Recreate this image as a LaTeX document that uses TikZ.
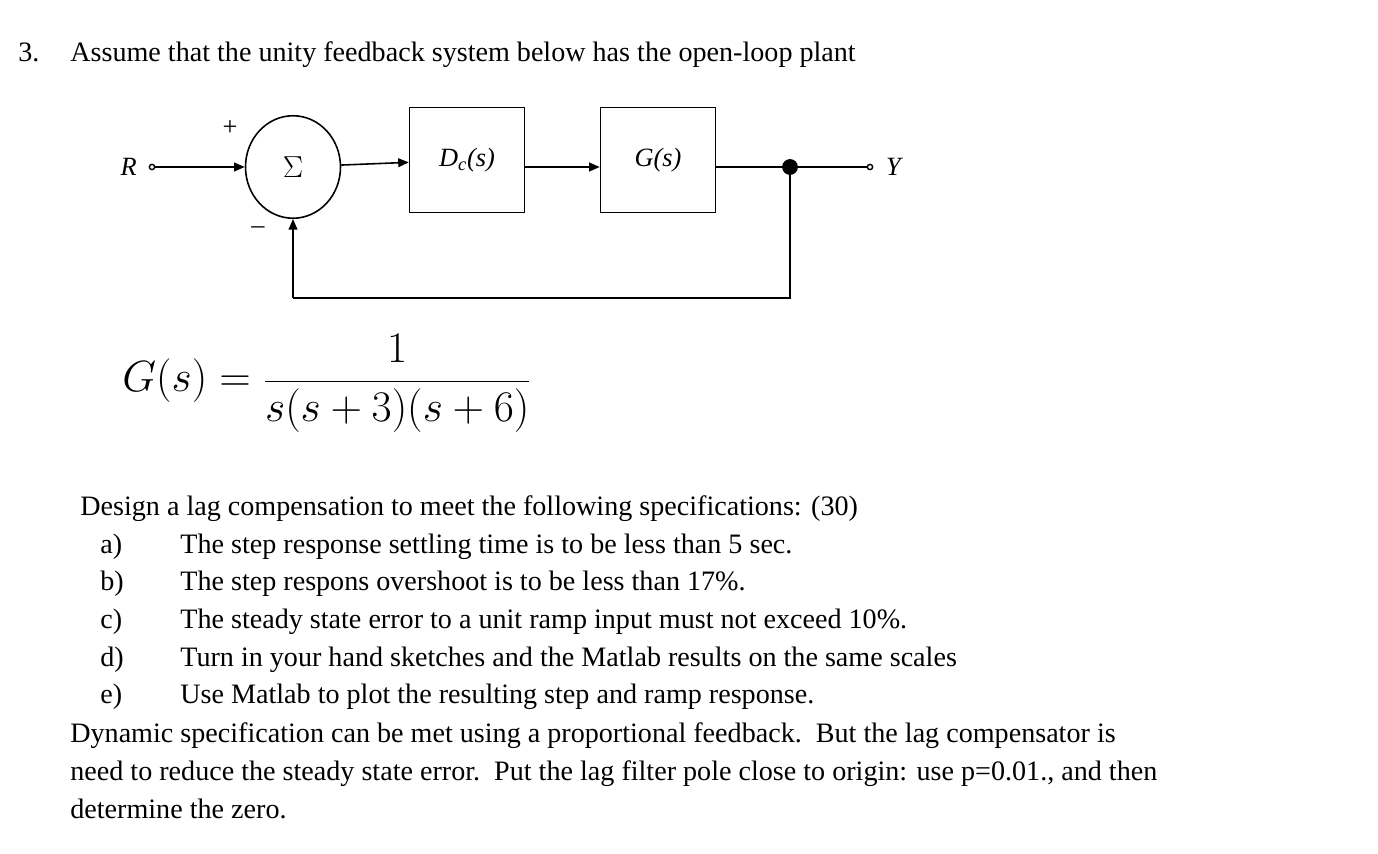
\documentclass[tikz,border=0pt]{standalone}
\usepackage{fontspec}
\setmainfont{Liberation Serif}
\usetikzlibrary{arrows.meta,shapes.geometric}
\begin{document}
\begin{tikzpicture}[x=0.02cm,y=-0.02cm,
  txt/.style={anchor=base west,inner sep=0,font=\fontsize{16}{19}\selectfont},
  blk/.style={draw,line width=0.9pt,minimum width=2.3cm,minimum height=2.1cm,font=\fontsize{15}{18}\selectfont},
  sig/.style={line width=0.9pt,-{Triangle[length=6pt,width=5pt]}},
  ln/.style={line width=0.9pt}]
\useasboundingbox (0,0) rectangle (1378,854);
\node[txt] (n3) at (18,62) {3.};
\node[txt] (t0) at (70,62) {Assume that the unity feedback system below has the open-loop plant};
% block diagram
\node[draw,circle,inner sep=0,minimum size=3pt,line width=0.8pt] (rin) at (152,167) {};
\node[anchor=east,font=\fontsize{15}{18}\selectfont\itshape] (R) at (143,167) {R};
\node[draw,ellipse,line width=0.9pt,minimum width=1.9cm,minimum height=2.05cm,inner sep=0,font=\fontsize{16}{19}\selectfont] (sum) at (293,167) {$\Sigma$};
\node[blk] (dc) at (467,160) {\itshape D\textsubscript{c}(s)};
\node[blk] (g) at (658,160) {\itshape G(s)};
\fill (790,167) circle (4.5pt);
\coordinate (dotc) at (790,167);
\node[draw,circle,inner sep=0,minimum size=3pt,line width=0.8pt] (yout) at (870,167) {};
\node[anchor=west,font=\fontsize{15}{18}\selectfont\itshape] (Y) at (880,167) {Y};
\node[font=\fontsize{15}{18}\selectfont] (plus) at (230,128) {+};
\node[font=\fontsize{15}{18}\selectfont] (minus) at (258,230) {--};
\coordinate (fb) at (790,298);
\coordinate (fb2) at (293,298);
\draw[sig] (rin) -- (sum);
\draw[sig] (sum) -- (dc);
\draw[sig] (dc.east|-sum) -- (g.west|-sum);
\draw[ln] (g.east|-sum) -- (yout);
\draw[ln] (dotc) -- (fb) -- (fb2);
\draw[sig] (fb2) -- (sum.south);
% equation
\node[anchor=base west,inner sep=0,font=\fontsize{24}{28}\selectfont] (eq) at (122,392)
  {$\displaystyle G(s)=\frac{\;1\;}{s(s+3)(s+6)}$};
% text
\node[txt] (d0) at (80,515) {Design a lag compensation to meet the following specifications: (30)};
\node[txt] (a0) at (100,553) {a)}; \node[txt] (a1) at (180,553) {The step response settling time is to be less than 5 sec.};
\node[txt] (b0) at (100,590) {b)}; \node[txt] (b1) at (180,590) {The step respons overshoot is to be less than 17\%.};
\node[txt] (c0) at (100,628) {c)}; \node[txt] (c1) at (180,628) {The steady state error to a unit ramp input must not exceed 10\%.};
\node[txt] (e0) at (100,666) {d)}; \node[txt] (e1) at (180,666) {Turn in your hand sketches and the Matlab results on the same scales};
\node[txt] (f0) at (100,703) {e)}; \node[txt] (f1) at (180,703) {Use Matlab to plot the resulting step and ramp response.};
\node[txt] (p1) at (70,742) {Dynamic specification can be met using a proportional feedback.\ \ But the lag compensator is};
\node[txt] (p2) at (70,780) {need to reduce the steady state error.\ \ Put the lag filter pole close to origin: use p=0.01., and then};
\node[txt] (p3) at (70,818) {determine the zero.};
\end{tikzpicture}
\end{document}
